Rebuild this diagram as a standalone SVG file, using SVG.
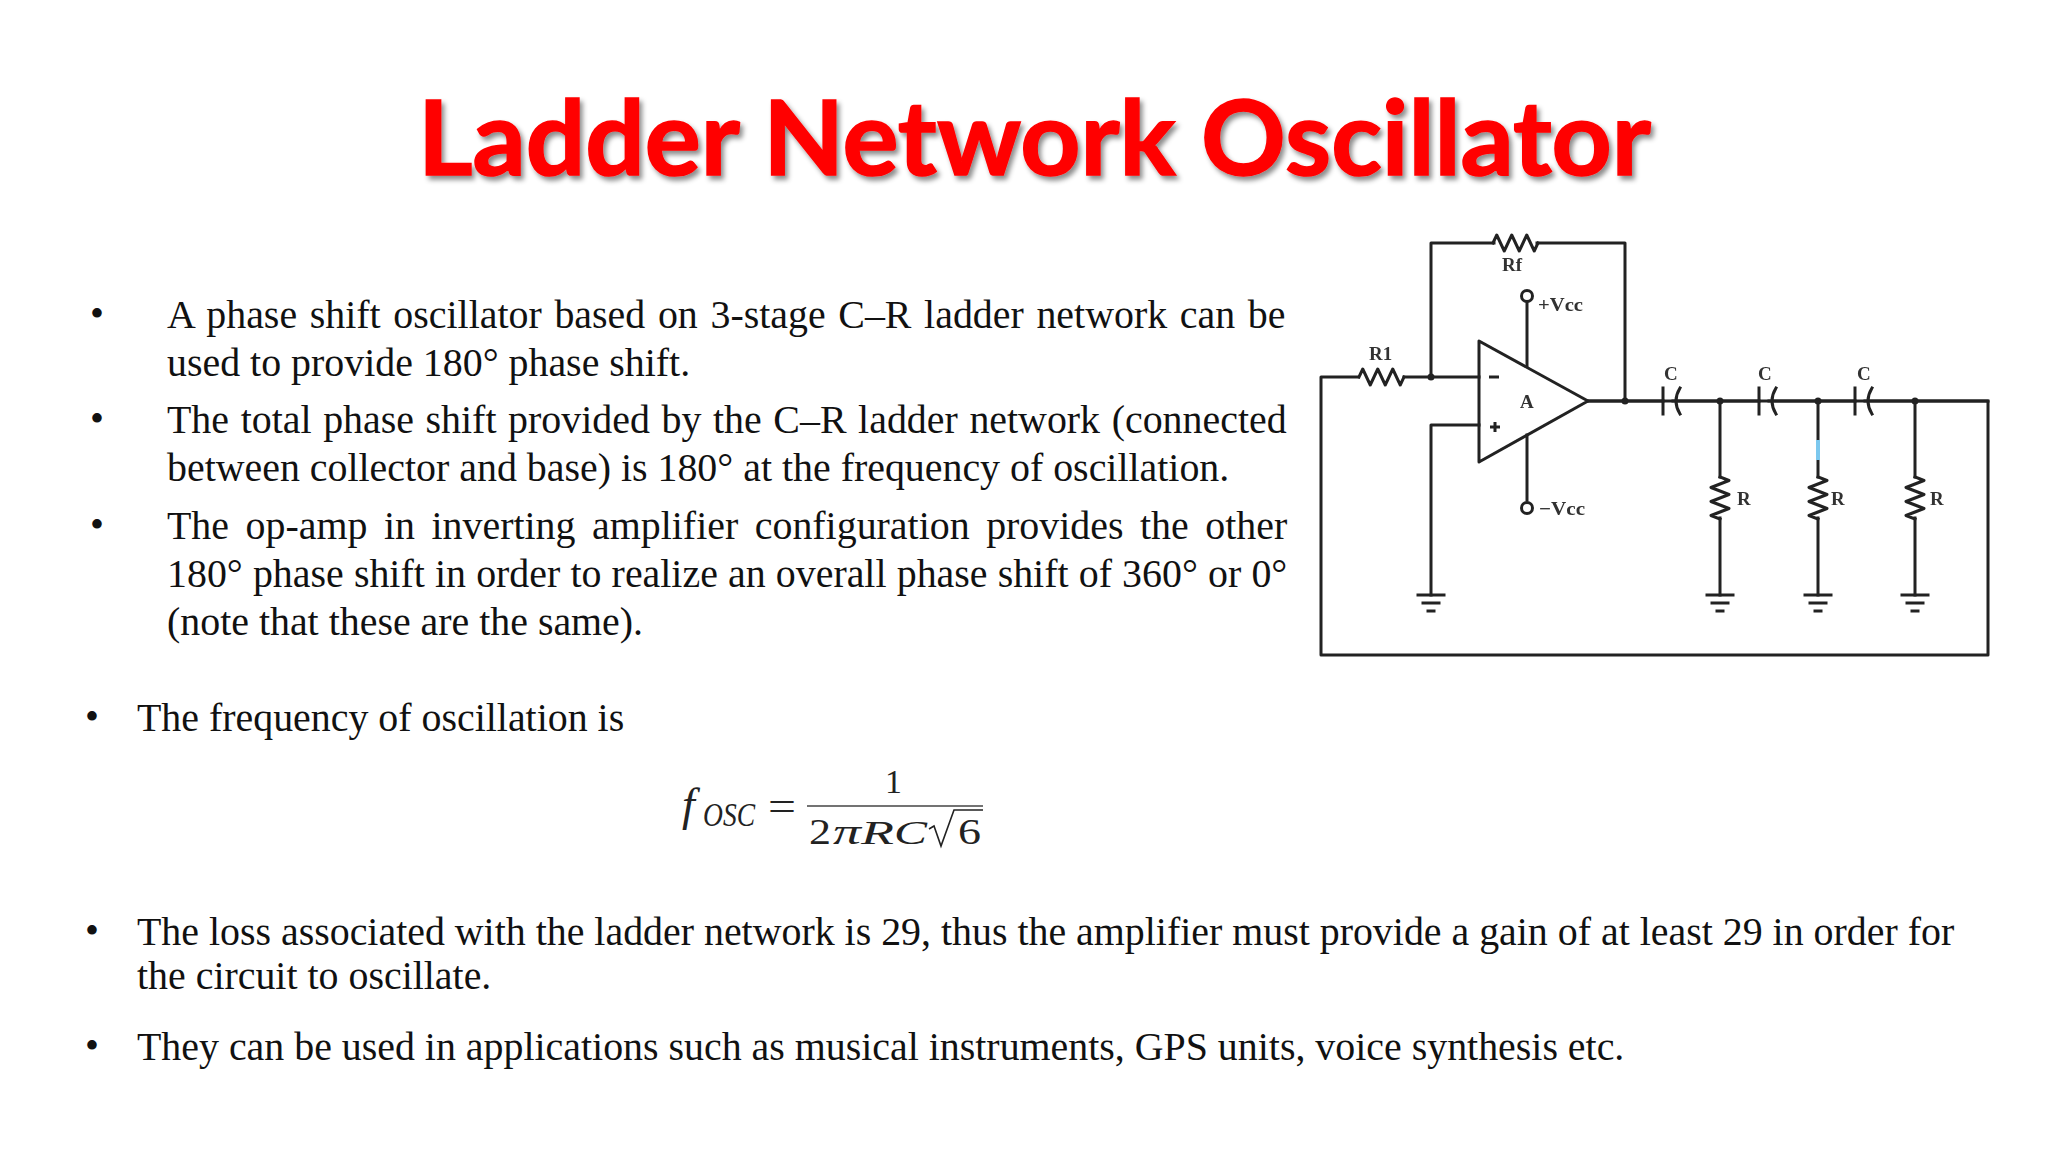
<svg xmlns="http://www.w3.org/2000/svg" width="2048" height="1152" viewBox="0 0 2048 1152">
<style>
.b{font-family:"Liberation Serif","Times New Roman",serif;font-size:39.88px;fill:#111}
.t{font-family:Lato,"Open Sans",sans-serif;font-weight:700;font-size:104px;fill:#f00;stroke:#f00;stroke-width:1.6px}
.w{fill:none;stroke:#222;stroke-width:3;stroke-linejoin:round;stroke-linecap:square}
.l{font-family:"Liberation Serif",serif;font-weight:700;font-size:19px;fill:#333}
.m{font-family:"Liberation Serif",serif;fill:#222}
.i{font-style:italic}
</style>
<defs>
<filter id="sh" x="-5%" y="-20%" width="110%" height="140%"><feDropShadow dx="3" dy="4" stdDeviation="2.5" flood-color="#000" flood-opacity=".45"/></filter>
<filter id="soft" x="-5%" y="-5%" width="110%" height="110%"><feGaussianBlur stdDeviation=".7"/></filter>
<path id="rh" class="w" d="M0 0l3.75-8 7.5 16 7.5-16 7.5 16 7.5-16 7.5 16 3.75-8"/>
<path id="rv" class="w" d="M0 0l9 3.5-18 7 18 7-18 7 18 7-18 7 9 3.5"/>
<g id="gnd"><path class="w" d="M-13 0H13M-8 8H8M-3 16H3"/></g>
<path id="cap" class="w" d="M0-13V13M17-13Q9 0 17 13"/>
</defs>
<rect width="2048" height="1152" fill="#fff"/>
<text class="t" x="418" y="175" textLength="1233" lengthAdjust="spacingAndGlyphs" filter="url(#sh)">Ladder Network Oscillator</text>

<g id="text-upper">
<text class="b" x="90" y="327">•</text>
<text class="b" x="167" y="328" word-spacing="2.72">A phase shift oscillator based on 3-stage C–R ladder network can be</text>
<text class="b" x="167" y="376">used to provide 180° phase shift.</text>
<text class="b" x="90" y="432">•</text>
<text class="b" x="167" y="433" word-spacing="1.67">The total phase shift provided by the C–R ladder network (connected</text>
<text class="b" x="167" y="481">between collector and base) is 180° at the frequency of oscillation.</text>
<text class="b" x="90" y="538">•</text>
<text class="b" x="167" y="539" word-spacing="6.6">The op-amp in inverting amplifier configuration provides the other</text>
<text class="b" x="167" y="587" word-spacing=".2">180° phase shift in order to realize an overall phase shift of 360° or 0°</text>
<text class="b" x="167" y="635">(note that these are the same).</text>
</g>
<g id="text-lower">
<text class="b" x="85" y="730">•</text>
<text class="b" x="137" y="731">The frequency of oscillation is</text>
<text class="b" x="85" y="944">•</text>
<text class="b" x="137" y="945">The loss associated with the ladder network is 29, thus the amplifier must provide a gain of at least 29 in order for</text>
<text class="b" x="137" y="989">the circuit to oscillate.</text>
<text class="b" x="85" y="1059">•</text>
<text class="b" x="137" y="1060">They can be used in applications such as musical instruments, GPS units, voice synthesis etc.</text>
</g>

<g id="formula">
<text class="m i" x="682" y="820" font-size="46">f</text>
<text class="m i" x="703" y="826" font-size="33" textLength="52" lengthAdjust="spacingAndGlyphs">OSC</text>
<text class="m" x="768" y="820" font-size="42" textLength="28" lengthAdjust="spacingAndGlyphs">=</text>
<path d="M807 806H983" stroke="#444" stroke-width="1.6"/>
<text class="m" x="885" y="793" font-size="34">1</text>
<text class="m" x="809" y="844" font-size="36" textLength="22" lengthAdjust="spacingAndGlyphs">2</text>
<text class="m i" x="833" y="844" font-size="36" textLength="28" lengthAdjust="spacingAndGlyphs">π</text>
<text class="m i" x="861" y="844" font-size="34" textLength="33" lengthAdjust="spacingAndGlyphs">R</text>
<text class="m i" x="894" y="844" font-size="34" textLength="33" lengthAdjust="spacingAndGlyphs">C</text>
<text class="m" x="958" y="844" font-size="36" textLength="23" lengthAdjust="spacingAndGlyphs">6</text>
<path d="M929 829l5-3 7 20 13-36H983" fill="none" stroke="#222" stroke-width="1.6"/>
</g>

<g id="circuit" filter="url(#soft)">
<g id="connectors">
<path class="w" d="M1358 377H1321V655H1988V401H1588"/>
<path class="w" d="M1404 377H1479"/>
<path class="w" d="M1431 377V243H1494"/>
<path class="w" d="M1537 243H1625V401"/>
<path class="w" d="M1479 425H1431V595"/>
<path class="w" d="M1527 303V366"/>
<path class="w" d="M1527 435V500"/>
<path class="w" d="M1588 401H1663"/>
<path class="w" d="M1673 401H1759"/>
<path class="w" d="M1769 401H1855"/>
<path class="w" d="M1865 401H1988"/>
<path class="w" d="M1720 401V477M1720 518V595"/>
<path class="w" d="M1818 401V477M1818 518V595"/>
<path class="w" d="M1915 401V477M1915 518V595"/>
<path d="M1818 440V460" stroke="#7cc8ee" stroke-width="4" fill="none"/>
</g>
<g id="opamp"><path class="w" d="M1479 341V462L1588 401Z"/>
<path d="M1489 377H1499M1490 427H1500M1495 422V432" stroke="#222" stroke-width="3" fill="none"/>
<text class="l" x="1520" y="408">A</text></g>
<g id="node-r1"><use href="#rh" x="1359" y="377"/><text class="l" x="1369" y="360">R1</text></g>
<g id="node-rf"><use href="#rh" x="1493" y="243"/><text class="l" x="1502" y="271">Rf</text></g>
<g id="node-vcc-pos"><circle class="w" cx="1527" cy="296" r="5.5"/><text class="l" x="1538" y="311" textLength="45" lengthAdjust="spacingAndGlyphs">+Vcc</text></g>
<g id="node-vcc-neg"><circle class="w" cx="1527" cy="508" r="5.5"/><text class="l" x="1539" y="515" textLength="46" lengthAdjust="spacingAndGlyphs">−Vcc</text></g>
<g id="node-c1"><use href="#cap" x="1663" y="401"/><text class="l" x="1664" y="380">C</text></g>
<g id="node-c2"><use href="#cap" x="1759" y="401"/><text class="l" x="1758" y="380">C</text></g>
<g id="node-c3"><use href="#cap" x="1855" y="401"/><text class="l" x="1857" y="380">C</text></g>
<g id="node-r2"><use href="#rv" x="1720" y="477"/><text class="l" x="1737" y="505">R</text></g>
<g id="node-r3"><use href="#rv" x="1818" y="477"/><text class="l" x="1831" y="505">R</text></g>
<g id="node-r4"><use href="#rv" x="1915" y="477"/><text class="l" x="1930" y="505">R</text></g>
<g id="node-gnd1"><use href="#gnd" x="1431" y="595"/></g>
<g id="node-gnd2"><use href="#gnd" x="1720" y="595"/></g>
<g id="node-gnd3"><use href="#gnd" x="1818" y="595"/></g>
<g id="node-gnd4"><use href="#gnd" x="1915" y="595"/></g>
<g id="junctions" fill="#222">
<circle cx="1431" cy="377" r="3.5"/><circle cx="1625" cy="401" r="3.5"/><circle cx="1720" cy="401" r="3.5"/><circle cx="1818" cy="401" r="3.5"/><circle cx="1915" cy="401" r="3.5"/>
</g>
</g>
</svg>
